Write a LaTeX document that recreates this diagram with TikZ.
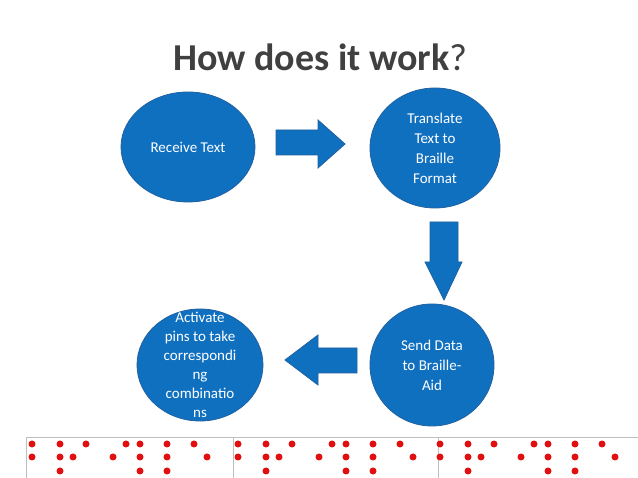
\documentclass[tikz,border=0pt]{standalone}
\usepackage{fontspec}
\setmainfont{Carlito}
\usetikzlibrary{shapes.geometric}
\definecolor{bl}{HTML}{1070C0}
\definecolor{bd}{HTML}{2060A0}
\definecolor{rd}{HTML}{E01010}
\tikzset{el/.style={ellipse,fill=bl,draw=bd,line width=0.8pt,text=white,align=center,font=\fontsize{15}{20}\selectfont,inner sep=0pt},
arr/.style={fill=bl,draw=bd,line width=0.8pt},
dot/.style={circle,fill=rd,inner sep=0pt,minimum size=7pt}}
\begin{document}
\begin{tikzpicture}[x=1pt,y=-1pt]
\useasboundingbox (0,0) rectangle (638,478);
\fill[white] (0,0) rectangle (638,478);
\node (title) at (320,57) {\fontsize{38}{44}\selectfont\color[HTML]{404040}\textbf{How does it work}?};
\node[el,minimum width=134pt,minimum height=110pt] (recv) at (188,147) {Receive Text};
\node[el,minimum width=130pt,minimum height=120pt] (tr) at (435,148) {Translate\\Text to\\Braille\\Format};
\node[el,minimum width=124pt,minimum height=122pt] (send) at (432,365) {Send Data\\to Braille-\\Aid};
\node[el,minimum width=126pt,minimum height=112pt] (act) at (200,365) {};
\node[text=white,align=center,font=\fontsize{15}{19}\selectfont,inner sep=0pt] (actt) at (act.center) {Activate\\pins to take\\correspondi\\ng\\combinatio\\ns};
\draw[arr] (276,130) -- (318,130) -- (318,120) -- (345,144) -- (318,168) -- (318,155) -- (276,155) -- cycle;
\draw[arr] (430,222) -- (458,222) -- (458,262) -- (462,262) -- (444,300) -- (425,262) -- (430,262) -- cycle;
\draw[arr] (357,348) -- (318,348) -- (318,335) -- (285,360) -- (318,385) -- (318,373) -- (357,373) -- cycle;
\draw[gray!50,line width=0.8pt] (26,478) -- (26,437) -- (638,437);
\draw[gray!50,line width=0.8pt] (233,437) -- (233,478) (438,437) -- (438,478);
\foreach \o in {0,206,408}{
 \foreach \x in {32,60,86,126,140,167,194} \node[dot] at (\x+\o,444) {};
 \foreach \x in {32,60,73,113,140,167,207} \node[dot] at (\x+\o,457) {};
 \foreach \x in {60,140,167} \node[dot] at (\x+\o,471) {};
}
\end{tikzpicture}
\end{document}
